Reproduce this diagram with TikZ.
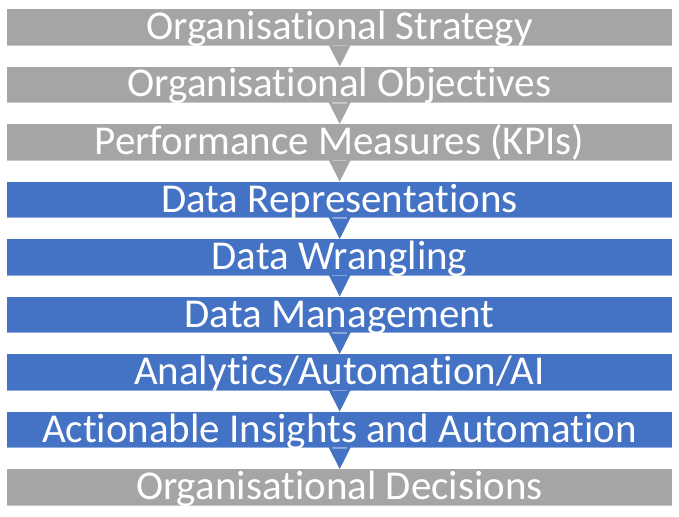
\documentclass[tikz,border=0pt]{standalone}
\usepackage{fontspec}
\setmainfont{Carlito}[Ligatures={NoCommon}]
\definecolor{bargray}{HTML}{A5A5A5}
\definecolor{barblue}{HTML}{4472C4}
\definecolor{edgegray}{HTML}{C8C8C8}
\definecolor{edgeblue}{HTML}{8FAADC}
\begin{document}
\begin{tikzpicture}[x=1pt,y=-1pt,
  bar/.style={minimum width=665pt,minimum height=36.5pt,inner sep=0pt,anchor=north west},
  bartext/.style={text=white,font=\fontsize{41}{41}\selectfont,anchor=base,inner sep=0pt},
]
\useasboundingbox (0,0) rectangle (679,516);
\foreach \i/\c/\t in {0/gray/{Organisational Strategy},1/gray/{Organisational Objectives},2/gray/{Performance Measures (KPIs)},3/blue/{Data Representations},4/blue/{Data Wrangling},5/blue/{Data Management},6/blue/{Analytics/Automation/AI},7/blue/{Actionable Insights and Automation},8/gray/{Organisational Decisions}}{
  \node[bar,fill=bar\c] (b\i) at (7,{9+57.5*\i}) {};
  \draw[edge\c,line width=1pt] ([yshift=0.5pt]b\i.south west) -- ([yshift=0.5pt]b\i.south east);
}
\foreach \i/\c in {0/gray,1/gray,2/gray,3/blue,4/blue,5/blue,6/blue,7/blue}{
  \pgfmathtruncatemacro{\j}{\i+1}
  \fill[bar\c] ([xshift=-7.5pt]b\i.south) -- ([xshift=7.5pt]b\i.south)
    -- ([xshift=7.5pt,yshift=7pt]b\i.south) -- ([xshift=14pt,yshift=7pt]b\i.south)
    -- (b\j.north) -- ([xshift=-14pt,yshift=7pt]b\i.south)
    -- ([xshift=-7.5pt,yshift=7pt]b\i.south) -- cycle;
}
\foreach \i/\t in {0/{Organisational Strategy},1/{Organisational Objectives},2/{Performance Measures (KPIs)},3/{Data Representations},4/{Data Wrangling},5/{Data Management},6/{Analytics/Automation/AI},7/{Actionable Insights and Automation},8/{Organisational Decisions}}{
  \node[bartext] (t\i) at (339.5,{39.5+57.5*\i}) {\t};
}
\end{tikzpicture}
\end{document}
